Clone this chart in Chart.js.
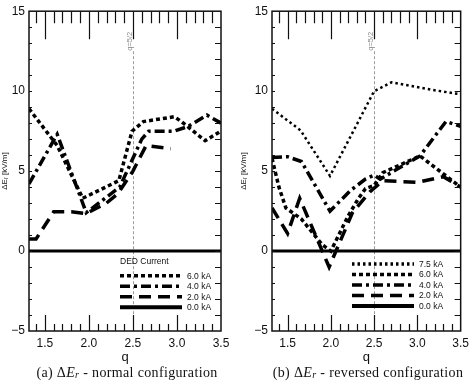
<!DOCTYPE html>
<html><head><meta charset="utf-8">
<script src="https://cdn.jsdelivr.net/npm/chart.js@4"></script>
<style>
html,body{margin:0;padding:0;background:#fff;}
#wrap{position:relative;width:474px;height:385px;overflow:hidden;background:#fff;}
canvas{position:absolute;top:0;}
.cap{position:absolute;top:364px;transform:translateX(-50%);font-family:"Liberation Serif","DejaVu Serif",serif;font-size:14px;letter-spacing:0.35px;white-space:nowrap;color:#111;line-height:17px;}
.cap sub{font-size:10px;position:relative;top:1px;vertical-align:baseline;}
</style></head><body>
<div id="wrap">
<canvas id="ca" width="237" height="365" style="left:0"></canvas>
<canvas id="cb" width="237" height="365" style="left:237px"></canvas>
<div class="cap" style="left:127px">(a) Δ<i>E<sub>r</sub></i> - normal configuration</div>
<div class="cap" style="left:368px">(b) Δ<i>E<sub>r</sub></i> - reversed configuration</div>
</div>
<script>
// ---- axis ticks ----
const qTicks = [1.5, 2.0, 2.5, 3.0, 3.5];
const eTicks = [-5, 0, 5, 10, 15];
const qMin = 1.32, qMax = 3.5, eMin = -5, eMax = 15;
const qRes = 2.5; // q = 5/2 surface

// ---- (a) normal configuration ----
const aQ60 = [1.32, 1.64, 1.93, 2.34, 2.49, 2.62, 2.97, 3.05, 3.32, 3.5];
const aE60 = [8.9, 6.6, 3.3, 4.4, 7.5, 8.1, 8.4, 8.1, 6.9, 7.5];
const aQ40 = [1.32, 1.64, 1.97, 2.35, 2.5, 2.6, 2.68, 2.97, 3.13, 3.34, 3.5];
const aE40 = [4.2, 7.3, 2.4, 4.0, 5.8, 7.0, 7.5, 7.5, 7.8, 8.5, 8.0];
const aQ20 = [1.32, 1.4, 1.6, 1.8, 1.97, 2.2, 2.33, 2.5, 2.65, 2.93];
const aE20 = [0.75, 0.75, 2.45, 2.45, 2.35, 3.0, 3.6, 5.0, 6.6, 6.4];
const aQ00 = [1.32, 3.5];
const aE00 = [0, 0];

// ---- (b) reversed configuration ----
const bQ75 = [1.32, 1.65, 1.99, 2.5, 2.7, 3.15, 3.5];
const bE75 = [8.9, 7.55, 4.7, 10.0, 10.55, 10.1, 9.8];
const bQ60 = [1.32, 1.4, 1.48, 1.66, 1.9, 2.0, 2.2, 2.32, 2.4, 2.5, 2.6, 3.03, 3.5];
const bE60 = [5.8, 4.0, 2.7, 2.0, 0.4, 0.0, 2.2, 3.3, 3.9, 4.1, 4.9, 5.95, 4.0];
const bQ40 = [1.32, 1.5, 1.66, 1.99, 2.23, 2.4, 2.5, 2.57, 3.03, 3.33, 3.5];
const bE40 = [5.85, 5.9, 5.6, 2.5, 3.8, 4.5, 4.75, 4.5, 5.95, 8.1, 7.8];
const bQ20 = [1.32, 1.5, 1.64, 1.98, 2.25, 2.45, 2.6, 3.0, 3.3, 3.5];
const bE20 = [2.7, 1.1, 3.3, -1.0, 2.4, 3.7, 4.4, 4.3, 4.65, 4.0];
const bQ00 = [1.32, 3.5];
const bE00 = [0, 0];

const labels = { '7.5': '7.5 kA', '6.0': '6.0 kA', '4.0': '4.0 kA', '2.0': '2.0 kA', '0.0': '0.0 kA' };
const style = {
  '7.5': { dash: [2.5, 3], w: 2.5 },
  '6.0': { dash: [4, 3], w: 3.5 },
  '4.0': { dash: [10, 4, 3, 4], w: 3.5 },
  '2.0': { dash: [12, 7], w: 3.5 },
  '0.0': { dash: [], w: 3 }
};

function ds(key, qs, es) {
  return {
    label: labels[key],
    data: qs.map((q, i) => ({ x: q, y: es[i] })),
    borderColor: '#000', backgroundColor: '#000',
    borderWidth: style[key].w, borderDash: style[key].dash,
    borderCapStyle: 'butt', borderJoinStyle: 'miter',
    pointRadius: 0, tension: 0, fill: false, kA: key
  };
}

const decor = {
  id: 'decor',
  beforeDatasetsDraw(chart) {
    const { ctx, chartArea: ca, scales: { x } } = chart;
    const px = Math.round(x.getPixelForValue(qRes)) + 0.5;
    ctx.save();
    ctx.strokeStyle = '#9a9a9a'; ctx.lineWidth = 1; ctx.setLineDash([3, 2]);
    ctx.beginPath(); ctx.moveTo(px, ca.top + 40); ctx.lineTo(px, ca.bottom); ctx.stroke();
    ctx.setLineDash([]);
    ctx.translate(px - 3.5, ca.top + 30);
    ctx.rotate(-Math.PI / 2);
    ctx.fillStyle = '#8a8a8a';
    ctx.font = '7.5px "Liberation Sans", Arial, sans-serif';
    ctx.textAlign = 'center'; ctx.textBaseline = 'middle';
    ctx.fillText('q=5/2', 0, 0);
    ctx.restore();
  },
  afterDatasetsDraw(chart, args, opts) {
    const { ctx, chartArea: ca, scales: { x, y } } = chart;
    ctx.save();
    ctx.strokeStyle = '#111'; ctx.lineWidth = 1.2; ctx.setLineDash([]);
    for (let k = 14; k <= 34; k++) {
      const q = k / 10;
      const xp = Math.round(x.getPixelForValue(q)) + 0.5;
      const major = (k % 5 === 0);
      ctx.beginPath();
      ctx.moveTo(xp, ca.top); ctx.lineTo(xp, ca.top + (major ? 28 : 12));
      ctx.moveTo(xp, ca.bottom); ctx.lineTo(xp, ca.bottom - (major ? 16 : 7));
      ctx.stroke();
    }
    for (let v = eMin + 1; v < eMax; v++) {
      const yp = Math.round(y.getPixelForValue(v)) + 0.5;
      ctx.beginPath();
      ctx.moveTo(ca.right, yp); ctx.lineTo(ca.right - 6, yp);
      ctx.moveTo(ca.left, yp); ctx.lineTo(ca.left + 3, yp);
      ctx.stroke();
    }
    ctx.lineWidth = 1.5;
    ctx.strokeRect(ca.left, ca.top, ca.right - ca.left, ca.bottom - ca.top);
    const L = opts.legend;
    ctx.font = '8.5px "Liberation Sans", Arial, sans-serif';
    ctx.fillStyle = '#111'; ctx.textBaseline = 'middle'; ctx.textAlign = 'left';
    if (L.title) ctx.fillText(L.title, L.x, L.ty);
    chart.data.datasets.slice().sort((a, b) => parseFloat(b.kA) - parseFloat(a.kA)).forEach((d, i) => {
      const yy = L.y0 + i * L.dy;
      ctx.strokeStyle = '#000';
      ctx.lineWidth = d.kA === '0.0' ? 4 : Math.max(d.borderWidth, 3.5);
      ctx.setLineDash(d.borderDash);
      ctx.lineCap = 'butt';
      ctx.beginPath(); ctx.moveTo(L.x, yy); ctx.lineTo(L.x + L.len, yy); ctx.stroke();
      ctx.setLineDash([]);
      ctx.fillText(d.label, L.x + L.len + 5, yy + 0.5);
    });
    ctx.restore();
  }
};

function makeChart(id, datasets, yw, padRight, titlePad, legend) {
  return new Chart(document.getElementById(id), {
    type: 'line',
    data: { datasets },
    options: {
      responsive: false, animation: false,
      layout: { padding: { top: 5, left: 0, right: padRight, bottom: 0 } },
      plugins: { legend: { display: false }, tooltip: { enabled: false }, decor: { legend } },
      scales: {
        x: {
          type: 'linear', min: qMin, max: qMax,
          afterBuildTicks: s => { s.ticks = qTicks.map(v => ({ value: v })); },
          afterFit: s => { s.height = 365 - 331; },
          grid: { display: false, drawTicks: false }, border: { display: false },
          ticks: { padding: 5, color: '#111', font: { family: '"Liberation Sans", Arial, sans-serif', size: 12 },
                   callback: v => v.toFixed(1), maxRotation: 0 },
          title: { display: true, text: 'q', color: '#111', padding: 0,
                   font: { family: '"Liberation Sans", Arial, sans-serif', size: 13 } }
        },
        y: {
          type: 'linear', min: eMin, max: eMax,
          afterBuildTicks: s => { s.ticks = eTicks.map(v => ({ value: v })); },
          afterFit: s => { s.width = yw; },
          grid: { display: false, drawTicks: false }, border: { display: false },
          ticks: { padding: 4, color: '#111', font: { family: '"Liberation Sans", Arial, sans-serif', size: 12 },
                   callback: v => String(v).replace('-', '\u2212') },
          title: { display: true, text: 'ΔEᵣ [kV/m]', color: '#111', padding: { top: titlePad, bottom: 0 },
                   font: { family: '"Liberation Sans", Arial, sans-serif', size: 8 } }
        }
      }
    },
    plugins: [decor]
  });
}

makeChart('ca', [
  ds('6.0', aQ60, aE60), ds('4.0', aQ40, aE40), ds('2.0', aQ20, aE20), ds('0.0', aQ00, aE00)
], 29, 16, 0, { x: 120, len: 62, title: 'DED Current', ty: 262, y0: 275.7, dy: 10.5 });

makeChart('cb', [
  ds('7.5', bQ75, bE75), ds('6.0', bQ60, bE60), ds('4.0', bQ40, bE40), ds('2.0', bQ20, bE20), ds('0.0', bQ00, bE00)
], 35, 11, 2, { x: 115, len: 62, title: '', ty: 0, y0: 264, dy: 10.5 });
</script>
</body></html>
